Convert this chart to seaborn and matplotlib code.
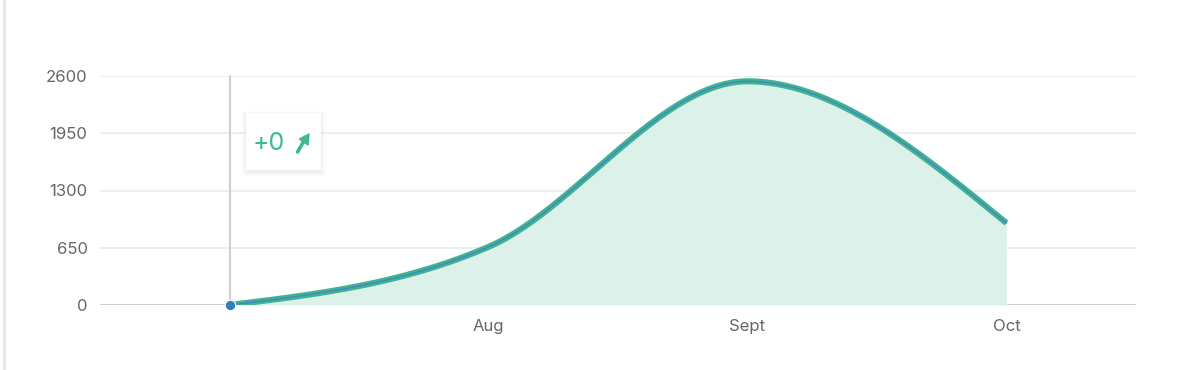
import numpy as np
import pandas as pd
import matplotlib
matplotlib.use("Agg")
import matplotlib.pyplot as plt
import seaborn as sns
from matplotlib.patches import Rectangle, Polygon
from matplotlib.lines import Line2D

# ---- data ----
months = ["", "Aug", "Sept", "Oct"]
values = [0, 660, 2540, 930]
y_ticks = [0, 650, 1300, 1950, 2600]
tooltip_text = "+0"

sns.set_theme(style="white")
plt.rcParams['font.family'] = ['Inter', 'DejaVu Sans']

W, H = 1180, 370
fig = plt.figure(figsize=(W / 100, H / 100), dpi=100)
ax = fig.add_axes([100 / W, 1 - 305 / H, (1136 - 100) / W, (305 - 76) / H])

xs = np.arange(len(values), dtype=float)
ys = np.array(values, dtype=float)


def monotone_tangents(x, y):
    n = len(x)
    t = np.zeros(n)
    for i in range(1, n - 1):
        h0 = x[i] - x[i - 1]
        h1 = x[i + 1] - x[i]
        s0 = (y[i] - y[i - 1]) / h0
        s1 = (y[i + 1] - y[i]) / h1
        p = (s0 * h1 + s1 * h0) / (h0 + h1)
        t[i] = (np.sign(s0) + np.sign(s1)) * min(abs(s0), abs(s1), 0.5 * abs(p))
    h = x[1] - x[0]
    t[0] = (3 * (y[1] - y[0]) / h - t[1]) / 2
    h = x[-1] - x[-2]
    t[-1] = (3 * (y[-1] - y[-2]) / h - t[-2]) / 2
    return t


tg = monotone_tangents(xs, ys)
cx, cy = [], []
for i in range(len(xs) - 1):
    h = xs[i + 1] - xs[i]
    s = np.linspace(0, 1, 60)
    h00 = 2 * s**3 - 3 * s**2 + 1
    h10 = s**3 - 2 * s**2 + s
    h01 = -2 * s**3 + 3 * s**2
    h11 = s**3 - s**2
    cx.extend(xs[i] + s * h)
    cy.extend(h00 * ys[i] + h10 * h * tg[i] + h01 * ys[i + 1] + h11 * h * tg[i + 1])
curve = pd.DataFrame({"x": cx, "y": cy})

# grid
for v in y_ticks[1:]:
    ax.axhline(v, color="#ebebeb", lw=1.2, zorder=0)
ax.axhline(0, color="#c9c9c9", lw=1.3, zorder=1)

# crosshair
ax.plot([0, 0], [0, 2600], color="#cfcfcf", lw=1.5, zorder=1, clip_on=False)

ax.fill_between(curve["x"], 0, curve["y"], color="#dcf1ea", lw=0, zorder=2)
sns.lineplot(data=curve, x="x", y="y", ax=ax, color="#3fb58f", lw=4.4,
             zorder=3, sort=False, solid_capstyle="butt")
sns.lineplot(data=curve, x="x", y="y", ax=ax, color="#4a80cc", lw=1.0,
             zorder=4, sort=False)
ax.plot([xs[0]], [ys[0]], "o", color="#2f7cc0", ms=7.5, mec="white", mew=0.8,
        zorder=5, clip_on=False)

ax.set_xlim(-0.5, len(values) - 0.5)
ax.set_ylim(0, 2600)
ax.set_xticks(xs)
ax.set_xticklabels(months)
ax.set_yticks(y_ticks)
ax.set_yticklabels([str(v) for v in y_ticks])
ax.tick_params(axis="both", length=0, labelsize=12, colors="#666666")
ax.tick_params(axis="x", pad=10)
ax.tick_params(axis="y", pad=9)
for lab in ax.get_yticklabels():
    lab.set_verticalalignment("center_baseline")
ax.set_xlabel("")
ax.set_ylabel("")
for sp in ax.spines.values():
    sp.set_visible(False)

# left border of card
fig.add_artist(Line2D([3.5 / W, 3.5 / W], [0, 1], color="#e2e5ea", lw=1.8))


def px(x, y):
    return (x / W, 1 - y / H)


# tooltip
bx0, by0, bw, bh = 246, 113, 75, 57
for k, a in enumerate([0.018, 0.014, 0.010, 0.007, 0.005]):
    off = k + 1
    fig.add_artist(Rectangle(px(bx0 - off, by0 + bh + off + 2),
                             (bw + 2 * off) / W, (bh + 2 * off) / H,
                             facecolor="black", alpha=a, lw=0, zorder=9))
fig.add_artist(Rectangle(px(bx0, by0 + bh), bw / W, bh / H,
                         facecolor="white", lw=0, zorder=10))
fig.text(253 / W, 1 - 143 / H, tooltip_text, color="#3dba8c", fontsize=18,
         va="center", ha="left", zorder=11)
# trending arrow icon
green = "#3dba8c"
fig.add_artist(Line2D([297.5 / W, 304.5 / W], [1 - 152 / H, 1 - 140 / H],
                      color=green, lw=2.6, solid_capstyle="round", zorder=11))
fig.add_artist(Polygon([px(309, 134), px(299.5, 139), px(308, 145)],
                       closed=True, facecolor=green, edgecolor=green, lw=1.0,
                       joinstyle="round", zorder=11))

fig.savefig("out.png", dpi=100, facecolor="white")
